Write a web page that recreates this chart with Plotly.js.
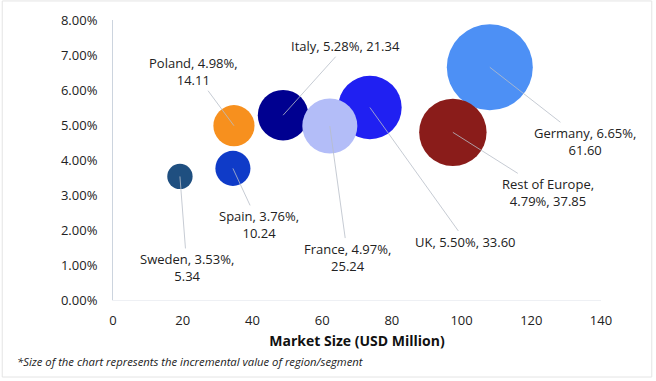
<!DOCTYPE html>
<html>
<head>
<meta charset="utf-8">
<script src="https://cdn.plot.ly/plotly-3.0.1.min.js"></script>
<style>html,body{margin:0;padding:0;background:#fff;}#chart{width:656px;height:381px;}</style>
</head>
<body>
<div id="chart"></div>
<script>
// Data (drawing order: later items on top)
var regions   = ["Germany", "Rest of Europe", "UK", "Italy", "France", "Poland", "Spain", "Sweden"];
var marketSize = [108.1, 97.5, 73.7, 48.8, 62.2, 34.7, 34.4, 19.2];       // x, USD Million
var growth     = [0.0665, 0.0479, 0.0550, 0.0528, 0.0497, 0.0498, 0.0376, 0.0353]; // y
var incremental = [61.60, 37.85, 33.60, 21.34, 25.24, 14.11, 10.24, 5.34]; // bubble size
var colors = ["#4d90f5", "#8a1c1a", "#2020f2", "#000090", "#b3bdf8", "#f7901e", "#0f3bc8", "#1f4f80"];
var labelText = [
  "Germany, 6.65%,<br>61.60",
  "Rest of Europe,<br>4.79%, 37.85",
  "UK, 5.50%, 33.60",
  "Italy, 5.28%, 21.34",
  "France, 4.97%,<br>25.24",
  "Poland, 4.98%,<br>14.11",
  "Spain, 3.76%,<br>10.24",
  "Sweden, 3.53%,<br>5.34"
];
// label offsets in px relative to bubble centre
var labelDx = [95, 95, 96, 62, 18, -40, 26, 7];
var labelDy = [74, 60, 134, -69, 131, -54, 56, 91];

var xTicks = [0, 20, 40, 60, 80, 100, 120, 140];

var maxDiam = 86;
var sizeref = 2 * Math.max.apply(null, incremental) / (maxDiam * maxDiam);

var trace = {
  type: "scatter",
  mode: "markers",
  x: marketSize,
  y: growth,
  text: regions,
  marker: {
    size: incremental,
    sizemode: "area",
    sizeref: sizeref,
    color: colors,
    opacity: 1,
    line: {width: 0}
  },
  hoverinfo: "text"
};

var annotations = regions.map(function(r, i) {
  return {
    x: marketSize[i], y: growth[i], xref: "x", yref: "y",
    text: labelText[i],
    showarrow: true, arrowhead: 0, arrowwidth: 0.8, arrowcolor: "#b8bec8",
    ax: labelDx[i], ay: labelDy[i],
    font: {family: "Open Sans, sans-serif", size: 13, color: "#222"},
    align: "center", standoff: 0
  };
});
annotations.push({
  xref: "paper", yref: "paper", x: -0.2, y: -0.22, xanchor: "left", yanchor: "middle",
  text: "<i>*Size of the chart represents the incremental value of region/segment</i>",
  showarrow: false,
  font: {family: "Open Sans, sans-serif", size: 11.3, color: "#222"}
});

var layout = {
  width: 656, height: 381,
  margin: {l: 113, r: 55, t: 20, b: 81},
  paper_bgcolor: "#ffffff",
  plot_bgcolor: "rgba(0,0,0,0)",
  showlegend: false,
  font: {family: "Open Sans, sans-serif", size: 13, color: "#222"},
  xaxis: {
    range: [0, 140], tickvals: xTicks, ticktext: xTicks.map(String),
    showgrid: false, zeroline: false,
    showline: true, linecolor: "#eef0f4", linewidth: 1,
    ticks: "", ticklabelstandoff: 8,
    tickfont: {size: 13, color: "#222"},
    title: {text: "<b>Market Size (USD Million)</b>", font: {size: 14, color: "#111"}, standoff: 8}
  },
  yaxis: {
    range: [0, 0.08], dtick: 0.01, tickformat: ".2%",
    showgrid: false, zeroline: false,
    showline: true, linecolor: "#ccd4de", linewidth: 1,
    ticks: "", ticklabelstandoff: 12,
    tickfont: {size: 13, color: "#222"}
  },
  annotations: annotations,
  shapes: [{
    type: "rect", xref: "paper", yref: "paper",
    x0: -0.227, x1: 1.104, y0: -0.275, y1: 1.068,
    line: {color: "#e4e4e4", width: 1}, fillcolor: "rgba(0,0,0,0)", layer: "below"
  }]
};

Plotly.newPlot("chart", [trace], layout, {displayModeBar: false, staticPlot: true});
</script>
</body>
</html>
